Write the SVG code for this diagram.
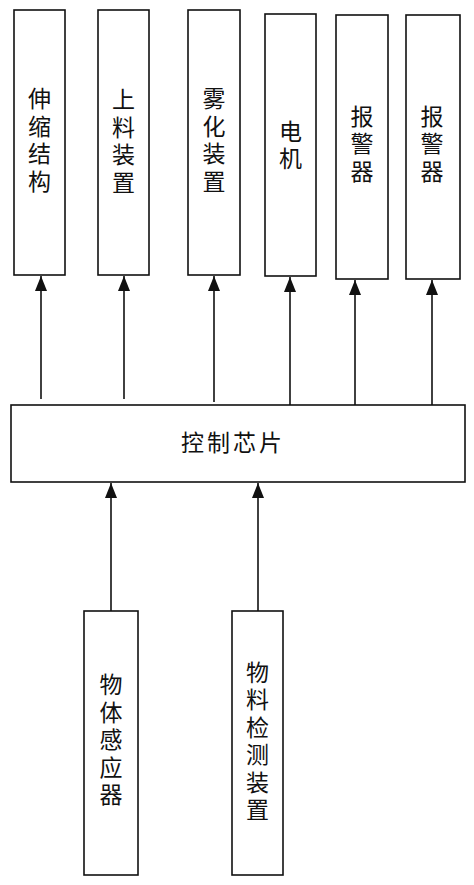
<svg xmlns="http://www.w3.org/2000/svg" width="474" height="885" viewBox="0 0 474 885">
<style>
.box{fill:#fff;stroke:#111;stroke-width:1.6}
.lbl{font-family:"Noto Sans CJK SC","Noto Sans CJK JP",sans-serif;font-size:23px;fill:#111;text-anchor:middle}
.h{dominant-baseline:central}
.v{writing-mode:vertical-rl;letter-spacing:4.5px}
.con{stroke:#111;stroke-width:1.6;fill:none;marker-end:url(#ah)}
</style>
<defs>
<marker id="ah" markerUnits="userSpaceOnUse" markerWidth="16" markerHeight="14" viewBox="0 0 16 14" refX="15" refY="7" orient="auto">
<path d="M15 7 L0 1 L0 13 Z" fill="#111"/>
</marker>
</defs>
<rect width="474" height="885" fill="#fff"/>
<g id="n1"><rect class="box" x="14" y="10" width="51" height="265"/>
<text class="lbl v" x="39.5" y="142">伸缩结构</text></g>
<g id="n2"><rect class="box" x="98" y="10" width="51" height="265"/>
<text class="lbl v" x="123.5" y="143">上料装置</text></g>
<g id="n3"><rect class="box" x="188" y="10" width="52" height="265"/>
<text class="lbl v" x="214" y="142">雾化装置</text></g>
<g id="n4"><rect class="box" x="265" y="14" width="51" height="262"/>
<text class="lbl v" x="290.5" y="147">电机</text></g>
<g id="n5"><rect class="box" x="336" y="15" width="52" height="264"/>
<text class="lbl v" x="362" y="146">报警器</text></g>
<g id="n6"><rect class="box" x="406" y="15" width="54" height="264"/>
<text class="lbl v" x="432" y="146">报警器</text></g>
<g id="ctrl"><rect class="box" x="11" y="405" width="454" height="77"/>
<text class="lbl h" x="233" y="441" letter-spacing="3">控制芯片</text></g>
<g id="n7"><rect class="box" x="84" y="611" width="54" height="264"/>
<text class="lbl v" x="111" y="742">物体感应器</text></g>
<g id="n8"><rect class="box" x="232" y="611" width="51" height="264"/>
<text class="lbl v" x="257.5" y="743">物料检测装置</text></g>
<g id="connectors">
<line class="con" x1="41" y1="399" x2="41" y2="276"/>
<line class="con" x1="124" y1="399" x2="124" y2="276"/>
<line class="con" x1="214" y1="402" x2="214" y2="276"/>
<line class="con" x1="290" y1="405" x2="290" y2="277"/>
<line class="con" x1="355" y1="405" x2="355" y2="280"/>
<line class="con" x1="432" y1="405" x2="432" y2="280"/>
<line class="con" x1="111" y1="611" x2="111" y2="483"/>
<line class="con" x1="258" y1="611" x2="258" y2="483"/>
</g>
</svg>
